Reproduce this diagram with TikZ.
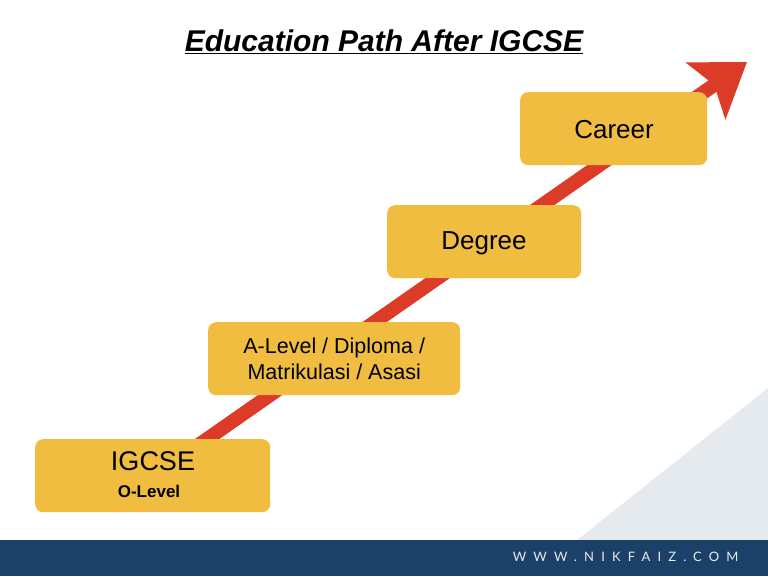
\documentclass[tikz,border=0pt]{standalone}
\usepackage{fontspec}
\setmainfont{Liberation Sans}
\newfontfamily\footfont[LetterSpace=55]{Lato}
\usetikzlibrary{arrows.meta}
\definecolor{boxfill}{HTML}{F0BD40}
\definecolor{arrowred}{HTML}{DC3B27}
\definecolor{bandblue}{HTML}{1C4168}
\definecolor{paleblue}{HTML}{E4EAEE}
\tikzset{
  stepbox/.style={draw=none, fill=boxfill, rounded corners=8pt, anchor=north west, inner sep=0pt},
}
\begin{document}
\begin{tikzpicture}[x=1pt,y=-1pt]
\useasboundingbox (0,0) rectangle (768,576);
\fill[white] (0,0) rectangle (768,576);
% pale triangle
\fill[paleblue] (576,541) -- (768,388) -- (768,541) -- cycle;
% footer band
\fill[bandblue] (0,540) rectangle (768,576);
\node[text=white!90!bandblue, font=\footfont\fontsize{13}{13}\selectfont, anchor=east] (url) at (742,557) {WWW.NIKFAIZ.COM};
% title
\node[font=\fontsize{30}{34}\selectfont\bfseries\itshape] (title) at (384,42) {\underline{Education Path After IGCSE}};
% arrow
\coordinate (start) at (190,451);
\coordinate (tip) at (747,62);
\draw[arrowred, line width=14pt, -{Stealth[length=50pt, width=68pt, inset=10pt]}] (start) -- (tip);
% boxes
\node[stepbox, minimum width=235pt, minimum height=73pt] (igcse) at (35,439) {};
\node[font=\fontsize{27}{27}\selectfont] (igcsetxt) at (153,461) {IGCSE};
\node[font=\fontsize{17}{17}\selectfont\bfseries] (olevel) at (149,491) {O-Level};
\node[stepbox, minimum width=252pt, minimum height=73pt] (alevel) at (208,322) {};
\node[font=\fontsize{21.5}{26}\selectfont, align=center] (aleveltxt) at (alevel.center) {A-Level / Diploma /\\Matrikulasi / Asasi};
\node[stepbox, minimum width=194pt, minimum height=73pt] (degree) at (387,205) {};
\node[font=\fontsize{26}{26}\selectfont] (degreetxt) at (484,243) {Degree};
\node[stepbox, minimum width=187pt, minimum height=73pt] (career) at (520,92) {};
\node[font=\fontsize{26}{26}\selectfont] (careertxt) at (614,130) {Career};
\end{tikzpicture}
\end{document}
